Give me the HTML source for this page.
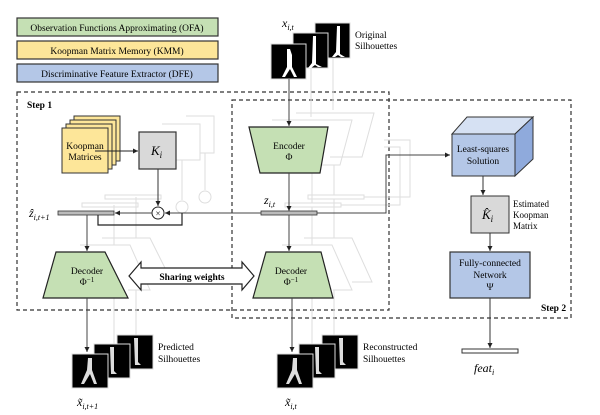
<!DOCTYPE html>
<html><head><meta charset="utf-8"><style>
body{margin:0;background:#fff}
svg{display:block;font-family:"Liberation Serif",serif}
</style></head><body>
<svg width="600" height="415" viewBox="0 0 600 415" xmlns="http://www.w3.org/2000/svg">
<defs>
<marker id="a" markerWidth="6" markerHeight="6" refX="5" refY="3" orient="auto"><path d="M0,0.5 L5,3 L0,5.5Z" fill="#222"/></marker>
</defs>
<rect x="17" y="18" width="201" height="18" fill="#c5e0b4" stroke="#333" stroke-width="1.2"/>
<text x="117" y="31" font-size="9.5" text-anchor="middle">Observation Functions Approximating (OFA)</text>
<rect x="17" y="41" width="201" height="18" fill="#fde699" stroke="#333" stroke-width="1.2"/>
<text x="117" y="54" font-size="9.5" text-anchor="middle">Koopman Matrix Memory (KMM)</text>
<rect x="17" y="64" width="201" height="18" fill="#b4c7e7" stroke="#333" stroke-width="1.2"/>
<text x="117" y="77" font-size="9.5" text-anchor="middle">Discriminative Feature Extractor (DFE)</text>

<rect x="17" y="92" width="372" height="218" fill="none" stroke="#333" stroke-width="1.2" stroke-dasharray="4,3"/>
<rect x="232" y="100" width="339" height="218" fill="none" stroke="#333" stroke-width="1.2" stroke-dasharray="4,3"/>
<text x="27" y="108" font-size="9.5" font-weight="bold">Step 1</text>
<text x="541" y="311" font-size="9.5" font-weight="bold">Step 2</text>

<g stroke="#dedede" fill="none" stroke-width="1">
<path d="M311,68 V117 M333,58 V110"/>
<path d="M272,120 L352,120 L340,165 L283,165" /><path d="M296,113 L374,113 L362,157 L330,157"/>
<path d="M162,124 H200 V160 H176"/><path d="M186,116 H214 V153 H200"/>
<path d="M182,160 V200 M205,153 V190"/>
<circle cx="182" cy="207" r="6"/><circle cx="205" cy="197" r="6"/>
<rect x="82" y="203" width="56" height="4"/><rect x="105" y="195" width="56" height="4"/>
<rect x="285" y="203" width="56" height="4"/><rect x="308" y="195" width="56" height="4"/>
<path d="M312,173 V203 M334,165 V195 M384,147 H400 V205 H341 M384,140 H410 V197 H364"/>
<path d="M114,205 V245 M136,197 V238 M312,207 V245 M334,199 V238"/>
<path d="M80,245 H130 L150,290 H128 M102,238 H150 L172,282 H150"/>
<path d="M282,245 H332 L352,290 H333 M304,238 H352 L372,282 H352"/>
<path d="M114,298 V344 M136,290 V335 M312,298 V344 M334,290 V335"/>
</g>

<g stroke="#ddd" stroke-width="1">
<rect x="315" y="23" width="35" height="35" fill="#000"/>
<rect x="293" y="33" width="35" height="35" fill="#000"/>
<rect x="271" y="44" width="35" height="35" fill="#000"/>
</g>
<g fill="#fff">
<path d="M337,26 h3 v28 l5,3 h-4 l-3,-2 l-3,2 h-3 l4,-5Z"/>
<path d="M313,36 h3 v28 l6,3 h-4 l-3,-2 l-4,3 h-3 l4,-5Z"/>
<path d="M287,49 h3 l2,6 v12 l5,10 h-3 l-4,-8 l-5,8 h-3 l5,-10 v-12Z"/>
</g>
<text x="282" y="27" font-size="12" font-style="italic">x<tspan font-size="8" dy="3">i,t</tspan></text>
<text x="355" y="38" font-size="9.5">Original</text>
<text x="355" y="49" font-size="9.5">Silhouettes</text>

<line x1="289" y1="79" x2="289" y2="126" stroke="#444" marker-end="url(#a)"/>
<path d="M249,127 L328,127 L320,173 L260,173Z" fill="#c5e0b4" stroke="#222" stroke-width="1.2"/>
<text x="289" y="149" font-size="9.5" text-anchor="middle">Encoder</text>
<text x="289" y="160" font-size="9.5" text-anchor="middle">Φ</text>
<line x1="289" y1="173" x2="289" y2="211" stroke="#444" marker-end="url(#a)"/>
<text x="264" y="204" font-size="12" font-style="italic">z<tspan font-size="8" dy="3">i,t</tspan></text>
<rect x="261" y="211" width="56" height="4" fill="#bbb" stroke="#333" stroke-width="0.8"/>

<g fill="#fde699" stroke="#333" stroke-width="1">
<rect x="74" y="116" width="46" height="45"/>
<rect x="70" y="120" width="46" height="45"/>
<rect x="66" y="124" width="46" height="45"/>
<rect x="62" y="128" width="46" height="45"/>
</g>
<text x="85" y="149" font-size="9.5" text-anchor="middle">Koopman</text>
<text x="85" y="160" font-size="9.5" text-anchor="middle">Matrices</text>
<line x1="95" y1="151" x2="138" y2="151" stroke="#222" marker-end="url(#a)"/>
<rect x="139" y="132" width="37" height="37" fill="#d9d9d9" stroke="#333" stroke-width="1.2"/>
<text x="151" y="155" font-size="13" font-style="italic">K<tspan font-size="9" dy="3">i</tspan></text>
<line x1="158" y1="169" x2="158" y2="206" stroke="#333" marker-end="url(#a)"/>
<circle cx="158" cy="213" r="6" fill="#fff" stroke="#222"/>
<text x="158" y="216.5" font-size="9" text-anchor="middle">×</text>
<line x1="261" y1="213" x2="165" y2="213" stroke="#444" marker-end="url(#a)"/>
<line x1="152" y1="213" x2="115" y2="213" stroke="#444" marker-end="url(#a)"/>
<rect x="58" y="211" width="56" height="4" fill="#bbb" stroke="#333" stroke-width="0.8"/>
<text x="29" y="217" font-size="12" font-style="italic">ẑ<tspan font-size="8" dy="3">i,t+1</tspan></text>
<path d="M98,215 V225 H182 V213" fill="none" stroke="#222" stroke-width="1.2"/>

<path d="M317,213 H386 V155 H450" fill="none" stroke="#444" marker-end="url(#a)"/>
<path d="M515,134 L533,117 H467 L452,134Z" fill="#d6e1f3" stroke="#333"/>
<path d="M515,134 L533,117 V159 L515,176Z" fill="#8faadc" stroke="#333"/>
<rect x="452" y="134" width="63" height="42" fill="#b4c7e7" stroke="#333"/>
<text x="483" y="152" font-size="9.5" text-anchor="middle">Least-squares</text>
<text x="483" y="164" font-size="9.5" text-anchor="middle">Solution</text>
<line x1="483" y1="176" x2="483" y2="195" stroke="#333" marker-end="url(#a)"/>
<rect x="471" y="196" width="38" height="37" fill="#d9d9d9" stroke="#333"/>
<text x="482" y="219" font-size="13" font-style="italic">K̂<tspan font-size="9" dy="3">i</tspan></text>
<text x="513" y="207" font-size="9">Estimated</text>
<text x="513" y="218" font-size="9">Koopman</text>
<text x="513" y="229" font-size="9">Matrix</text>
<line x1="490" y1="233" x2="490" y2="251" stroke="#333" marker-end="url(#a)"/>
<rect x="450" y="252" width="80" height="46" fill="#b4c7e7" stroke="#333" stroke-width="1.2"/>
<text x="490" y="266" font-size="9.5" text-anchor="middle">Fully-connected</text>
<text x="490" y="278" font-size="9.5" text-anchor="middle">Network</text>
<text x="490" y="290" font-size="9.5" text-anchor="middle">Ψ</text>
<line x1="490" y1="298" x2="490" y2="348" stroke="#333" marker-end="url(#a)"/>
<rect x="462" y="349" width="56" height="4" fill="#fff" stroke="#333"/>
<text x="474" y="372" font-size="12" font-style="italic">feat<tspan font-size="8" dy="3">i</tspan></text>

<line x1="87" y1="215" x2="87" y2="251" stroke="#444" marker-end="url(#a)"/>
<line x1="289" y1="215" x2="289" y2="251" stroke="#444" marker-end="url(#a)"/>
<path d="M56,252 L105,252 L128,298 L43,298Z" fill="#c5e0b4" stroke="#222" stroke-width="1.2"/>
<text x="87" y="274" font-size="9.5" text-anchor="middle">Decoder</text>
<text x="87" y="285" font-size="9.5" text-anchor="middle">Φ<tspan font-size="7" dy="-3">−1</tspan></text>
<path d="M266,252 L321,252 L333,298 L253,298Z" fill="#c5e0b4" stroke="#222" stroke-width="1.2"/>
<text x="291" y="274" font-size="9.5" text-anchor="middle">Decoder</text>
<text x="291" y="285" font-size="9.5" text-anchor="middle">Φ<tspan font-size="7" dy="-3">−1</tspan></text>
<path d="M129,276 L141,262 V268 H242 V262 L254,276 L242,290 V284 H141 V290Z" fill="#fff" stroke="#222" stroke-width="1.2"/>
<text x="192" y="280" font-size="9.5" font-weight="bold" text-anchor="middle">Sharing weights</text>
<line x1="87" y1="298" x2="87" y2="352" stroke="#444" marker-end="url(#a)"/>
<line x1="292" y1="298" x2="292" y2="352" stroke="#444" marker-end="url(#a)"/>

<g stroke="#ddd">
<rect x="117" y="335" width="36" height="34" fill="#000"/>
<rect x="94" y="344" width="36" height="34" fill="#000"/>
<rect x="72" y="354" width="36" height="34" fill="#000"/>
<rect x="322" y="335" width="36" height="34" fill="#000"/>
<rect x="299" y="344" width="36" height="34" fill="#000"/>
<rect x="277" y="354" width="36" height="34" fill="#000"/>
</g>
<g fill="#ddd">
<path d="M88,358 h4 v12 l5,14 h-3 l-4,-10 l-6,10 h-3 l6,-14Z"/>
<path d="M110,347 h4 v24 l3,3 h-6Z"/><path d="M134,338 h4 v24 l3,3 h-6Z"/>
<path d="M293,358 h4 v12 l5,14 h-3 l-4,-10 l-6,10 h-3 l6,-14Z"/>
<path d="M315,347 h4 v24 l3,3 h-6Z"/><path d="M339,338 h4 v24 l3,3 h-6Z"/>
</g>
<text x="158" y="350" font-size="9.5">Predicted</text>
<text x="158" y="362" font-size="9.5">Silhouettes</text>
<text x="363" y="350" font-size="9.5">Reconstructed</text>
<text x="363" y="362" font-size="9.5">Silhouettes</text>
<text x="77" y="406" font-size="12" font-style="italic">x̃<tspan font-size="8" dy="3">i,t+1</tspan></text>
<text x="285" y="406" font-size="12" font-style="italic">x̃<tspan font-size="8" dy="3">i,t</tspan></text>
</svg>
</body></html>
